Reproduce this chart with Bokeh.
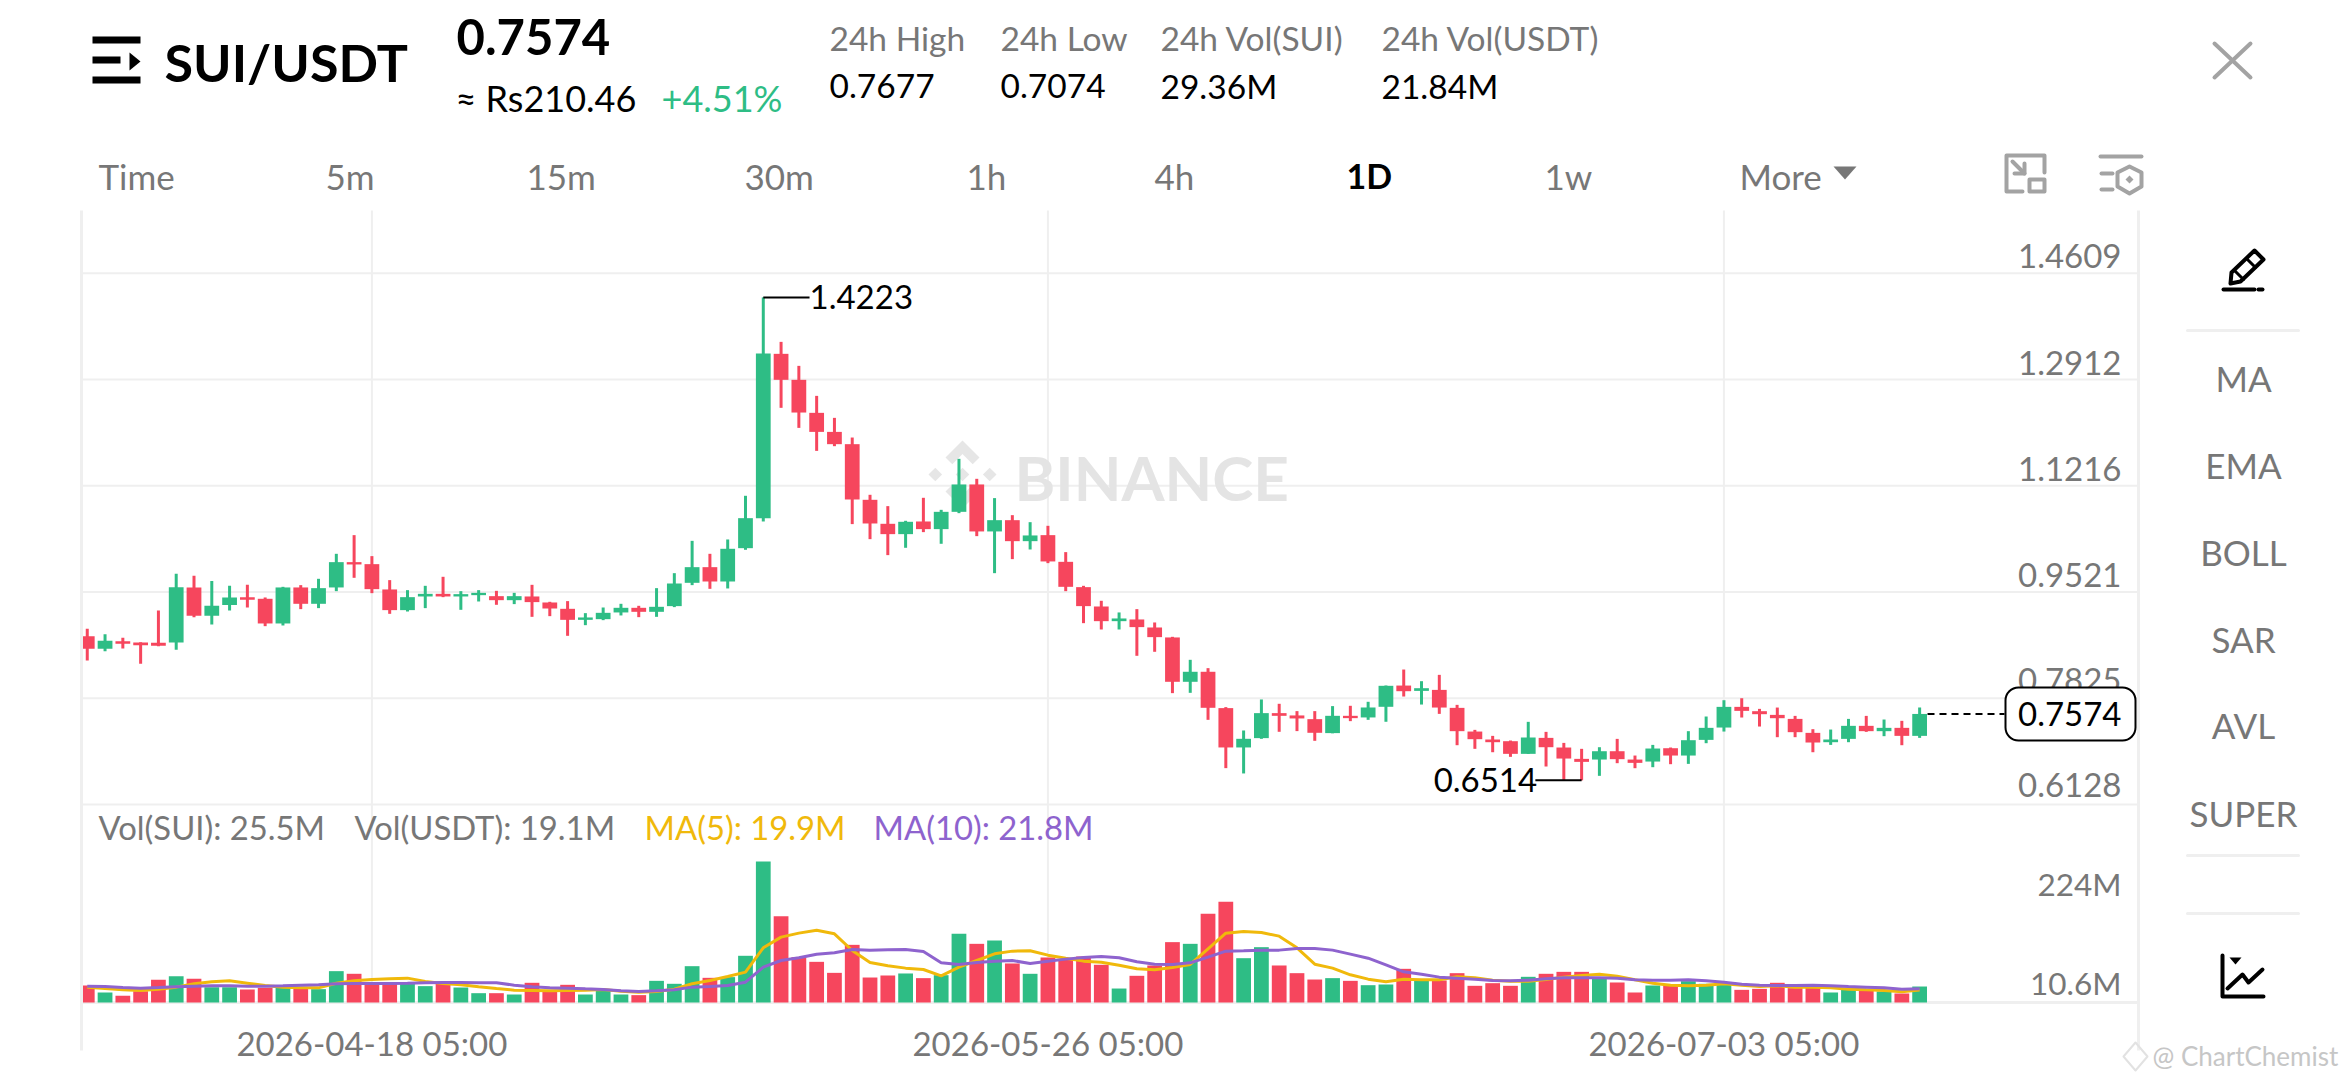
from bokeh.plotting import figure
from bokeh.embed import file_html
from bokeh.resources import INLINE
from bokeh.core.properties import value
from bokeh.models import (Range1d, FixedTicker, Label, BoxAnnotation)

opens = [.8816,.8614,.8736,.8715,.8709,.8715,.9593,.9140,.9311,.9438,.9412,.9018,.9593,.9332,.9593,.9997,.9965,.9561,.9231,.9449,
.9491,.9449,.9470,.9454,.9390,.9449,.9353,.9252,.9076,.9087,.9194,.9268,.9204,.9295,.9667,.9917,.9688,1.0220,1.0699,1.3322,
1.2907,1.2380,1.2076,1.1880,1.0992,1.0609,1.0444,1.0646,1.0524,1.0800,1.1237,1.0487,1.0667,1.0332,1.0428,1.0002,.9598,.9289,.9055,.9082,
.8954,.8795,.8087,.8247,.7667,.7039,.7188,.7587,.7550,.7491,.7268,.7544,.7518,.7688,.8027,.7942,.7958,.7671,.7293,.7166,
.7139,.6937,.7192,.7038,.6857,.6846,.6979,.6846,.6814,.7027,.6910,.7160,.7357,.7687,.7618,.7559,.7495,.7272,.7123,.7176,
.7384,.7299,.7352,.7224]
highs = [.8933,.8848,.8789,.8720,.9225,.9811,.9779,.9694,.9619,.9635,.9433,.9603,.9630,.9731,1.0130,1.0428,1.0093,.9710,.9550,.9619,
.9763,.9534,.9550,.9539,.9507,.9635,.9364,.9375,.9183,.9273,.9332,.9300,.9582,.9821,1.0337,1.0130,1.0359,1.1056,1.4223,1.3513,
1.3130,1.2651,1.2300,1.1986,1.1072,1.0891,1.0657,1.1024,1.0832,1.1646,1.1327,1.1019,1.0747,1.0635,1.0577,1.0157,.9619,.9380,.9194,.9247,
.9034,.8805,.8438,.8305,.7683,.7310,.7805,.7736,.7619,.7619,.7699,.7704,.7768,.8028,.8283,.8097,.8198,.7719,.7320,.7224,
.7150,.7448,.7288,.7112,.7017,.7043,.7176,.6910,.7080,.7038,.7299,.7533,.7793,.7825,.7655,.7676,.7543,.7331,.7325,.7495,
.7543,.7485,.7464,.7677]
lows = [.8427,.8576,.8619,.8374,.8656,.8598,.9119,.9002,.9225,.9273,.8975,.8986,.9247,.9263,.9534,.9747,.9502,.9172,.9209,.9263,
.9438,.9236,.9369,.9316,.9327,.9124,.9135,.8821,.8991,.9071,.9146,.9119,.9124,.9279,.9630,.9571,.9577,1.0194,1.0646,1.2460,
1.2140,1.1773,1.1848,1.0604,1.0364,1.0109,1.0226,1.0476,1.0290,1.0779,1.0412,.9821,1.0045,1.0199,.9981,.9534,.9023,.8922,.8922,.8502,
.8566,.7906,.7911,.7480,.6709,.6624,.7177,.7289,.7300,.7145,.7265,.7459,.7480,.7449,.7852,.7724,.7575,.7075,.7017,.6963,
.6889,.6937,.6735,.6522,.6514,.6586,.6788,.6708,.6724,.6772,.6777,.7107,.7293,.7517,.7373,.7203,.7203,.6963,.7080,.7123,
.7288,.7219,.7075,.7192]
closes = [.8614,.8741,.8693,.8672,.8661,.9598,.9140,.9300,.9433,.9396,.9018,.9593,.9332,.9582,.9997,.9960,.9566,.9231,.9438,.9491,
.9449,.9486,.9507,.9390,.9454,.9359,.9257,.9076,.9114,.9188,.9268,.9204,.9284,.9656,.9917,.9688,1.0210,1.0699,1.3327,1.2907,
1.2385,1.2076,1.1880,1.0997,1.0614,1.0444,1.0641,1.0524,1.0800,1.1237,1.0487,1.0667,1.0332,1.0423,1.0008,.9603,.9295,.9055,.9098,.8960,
.8800,.8087,.8247,.7672,.7039,.7177,.7587,.7544,.7502,.7273,.7544,.7507,.7677,.8023,.7937,.7985,.7676,.7299,.7171,.7123,
.6937,.7198,.7043,.6862,.6809,.6979,.6852,.6793,.7022,.6910,.7155,.7352,.7687,.7623,.7570,.7506,.7283,.7118,.7166,.7384,
.7299,.7352,.7224,.7574]
volumes = [27.0,15.9,10.6,18.0,36.0,41.8,37.6,24.4,24.4,20.7,23.3,24.4,23.3,21.2,49.8,45.6,29.7,29.7,29.7,26.0,
29.7,23.8,14.8,14.8,12.7,31.3,19.1,28.1,12.7,19.1,12.7,11.7,34.4,29.7,57.7,39.2,40.3,74.2,224.1,137.2,
72.0,64.6,47.1,91.6,39.7,42.9,46.1,38.7,43.4,109.1,93.2,98.5,62.0,45.6,71.5,67.8,73.1,59.9,22.2,42.4,
58.8,95.9,93.2,140.9,160.0,70.4,87.9,58.8,46.6,36.5,38.7,34.4,27.5,28.6,53.5,35.0,35.0,46.6,26.5,30.7,
26.5,40.8,45.6,48.7,48.7,40.3,31.8,15.9,27.0,27.0,33.9,29.7,28.6,20.1,21.7,31.3,22.8,24.4,15.9,21.7,
19.1,17.5,14.3,25.4]
ma5 = [24.4,22.2,20.1,19.1,21.2,24.4,29.7,32.8,34.4,30.7,27.0,24.4,23.3,23.3,30.7,34.4,36.5,37.6,38.7,33.4,
30.2,28.1,24.9,22.2,19.6,19.1,18.5,19.1,19.6,20.7,18.0,16.4,17.5,21.2,29.7,35.0,41.3,48.2,86.9,103.8,
110.2,114.9,109.1,82.6,63.6,58.3,54.6,52.4,42.4,56.1,66.7,77.3,81.6,82.1,75.2,70.4,65.7,64.1,59.3,53.5,
51.9,55.6,60.4,85.3,110.2,112.8,111.2,105.4,86.9,60.9,54.6,44.0,37.1,32.8,37.1,36.0,36.0,40.8,39.2,35.5,
33.9,33.9,36.5,40.3,42.9,45.0,41.8,36.0,30.7,27.5,26.5,27.5,29.7,27.5,25.4,26.5,24.4,24.4,23.3,21.2,
20.1,19.1,17.0,19.9]
ma10 = [26.0,25.4,23.8,22.8,23.8,24.9,26.0,26.5,26.5,26.0,26.0,26.5,27.5,28.1,29.7,30.2,30.2,30.2,30.7,31.3,
31.8,31.8,31.3,31.3,27.5,24.9,23.3,22.8,21.7,20.7,18.5,17.5,18.5,20.1,24.4,25.4,27.0,32.3,56.1,66.7,
71.0,76.8,78.9,84.2,83.2,83.7,84.2,81.0,63.0,60.4,63.6,65.7,66.7,62.0,65.7,68.9,71.5,73.1,71.0,64.6,
60.9,60.4,63.0,72.0,81.6,82.1,83.2,83.2,85.8,85.8,83.2,76.8,70.4,59.9,48.7,45.0,40.3,38.7,37.1,35.0,
34.4,35.5,37.6,39.2,39.2,39.2,38.7,36.0,35.5,35.5,36.0,34.4,32.3,29.1,27.5,27.0,27.0,27.5,26.5,25.4,
24.4,23.3,21.2,21.8]
price_ticks = [1.4609,1.2912,1.1216,.9521,.7825,.6128]
price_labels = ["1.4609","1.2912","1.1216","0.9521","0.7825","0.6128"]
vol_ticks = [224,10.6]
vol_labels = ["224M","10.6M"]
date_ticks = [16,54,92]
date_labels = ["2026-04-18 05:00","2026-05-26 05:00","2026-07-03 05:00"]
intervals = ["Time","5m","15m","30m","1h","4h","1D","1w","More"]
indicators = ["MA","EMA","BOLL","SAR","AVL","SUPER"]
last_price, high_mark, low_mark = .7574, 1.4223, .6514

GREEN, RED, GRID, GRAY = "#2EBD85", "#F6465D", "#EFEFEF", "#777777"
FONT = "Lato"
# image pixel -> data helpers for page furniture placed around the chart
def fx(px): return (px - 86.76) / 17.79
def fy(py): return 1.4609 - (py - 272.7) / 626.5
VPX = 224 / 141.0
W, H = 2340, 1080
idx = list(range(len(opens)))
colors = [GREEN if c >= o else RED for o, c in zip(opens, closes)]

p = figure(width=W, height=H, output_backend="svg", toolbar_location=None,
           x_range=Range1d(fx(0), fx(W)), y_range=Range1d(fy(H), fy(0)),
           min_border=0, min_border_left=0, min_border_right=0, min_border_top=0, min_border_bottom=0)
p.extra_y_ranges = {"vol": Range1d(-(H-1002)*VPX, 1002*VPX)}
p.outline_line_color = None
p.background_fill_color = "white"
p.yaxis.visible = False
p.xgrid.visible = False
p.ygrid.visible = False

base = fy(1002)
ax = p.xaxis[0]
ax.ticker = FixedTicker(ticks=date_ticks)
ax.major_label_overrides = dict(zip(date_ticks, date_labels))
ax.fixed_location = base
ax.axis_line_color = None
ax.major_tick_line_color = None
ax.minor_tick_line_color = None
ax.major_label_text_font = FONT
ax.major_label_text_font_size = "33px"
ax.major_label_text_color = GRAY
ax.major_label_standoff = 14

def txt(t, x, y, size=33, color=GRAY, align="left", style="normal"):
    p.text(x=[fx(x)], y=[fy(y)], text=[t], text_font=value(FONT), text_font_size=f"{size}px", text_color=color,
           text_align=align, text_baseline="middle", text_font_style=style)
def poly(pts, fill=None, line="black", w=4):
    p.patch(x=[fx(a) for a, b in pts], y=[fy(b) for a, b in pts], fill_color=fill or "white",
            fill_alpha=1 if fill else 0, line_color=line or "white", line_alpha=1 if line else 0, line_width=w,
            line_join="round")
def path(pts, line="black", w=4):
    p.line(x=[fx(a) for a, b in pts], y=[fy(b) for a, b in pts], line_color=line, line_width=w,
           line_cap="round", line_join="round")

# grid rules
p.segment(x0=[fx(81)]*6, x1=[fx(2138)]*6, y0=price_ticks, y1=price_ticks, line_color=GRID, line_width=2)
p.segment(x0=date_ticks, x1=date_ticks, y0=[base]*3, y1=[fy(210)]*3, line_color=GRID, line_width=2)
p.segment(x0=[fx(81)], x1=[fx(2138)], y0=[base], y1=[base], line_color=GRID, line_width=3)

# watermark
cx, cy, s = 962, 474, 34
wm = [[(0,-1),(.5,-.5),(.3,-.3),(0,-.6),(-.3,-.3),(-.5,-.5)],
      [(0,1),(.5,.5),(.3,.3),(0,.6),(-.3,.3),(-.5,.5)],
      [(0,-.2),(.2,0),(0,.2),(-.2,0)],
      [(.8,-.2),(1,0),(.8,.2),(.6,0)],
      [(-.8,-.2),(-.6,0),(-.8,.2),(-1,0)]]
p.patches(xs=[[fx(cx+a*s) for a, b in q] for q in wm], ys=[[fy(cy+b*s) for a, b in q] for q in wm],
          fill_color="#E6E6E6", line_color=None)
txt("BINANCE", 1014, 476, 62, "#E4E4E4", style="bold")

# candles
p.segment(x0=idx, x1=idx, y0=lows, y1=highs, line_color=colors, line_width=3)
p.vbar(x=idx, width=.83, top=[max(o, c) for o, c in zip(opens, closes)],
       bottom=[min(o, c) for o, c in zip(opens, closes)], fill_color=colors, line_color=None)

# volume
p.vbar(x=idx, width=.83, top=volumes, bottom=0, fill_color=colors, line_color=None, y_range_name="vol")
p.line(idx, ma5, line_color="#F0B90B", line_width=3, y_range_name="vol")
p.line(idx, ma10, line_color="#8E63CE", line_width=3, y_range_name="vol")

# left mask and frame sides
p.quad(left=[fx(0)], right=[fx(81)], bottom=[fy(H)], top=[fy(0)], fill_color="white", line_color=None)
p.segment(x0=[fx(81), fx(2138)], x1=[fx(81), fx(2138)], y0=[fy(210)]*2, y1=[fy(1050)]*2, line_color=GRID, line_width=3)

# axis value labels
p.text(x=[fx(2121)]*6, y=price_ticks, text=price_labels, text_font=value(FONT), text_font_size="33px",
       text_color=GRAY, text_align="right", text_baseline="middle", y_offset=[-17,-17,-17,-17,-18,-20])
p.text(x=[fx(2121)]*2, y=vol_ticks, text=vol_labels, text_font=value(FONT), text_font_size="31.5px",
       text_color=GRAY, text_align="right", text_baseline="middle", y_offset=[22,-13], y_range_name="vol")

# high / low marks
hi = highs.index(high_mark); lo = lows.index(low_mark)
p.segment(x0=[hi, lo-2.6], x1=[hi+2.6, lo], y0=[high_mark, low_mark], y1=[high_mark, low_mark], line_color="black", line_width=2)
p.text(x=[hi+2.6], y=[high_mark], text=["1.4223"], text_font=value(FONT), text_font_size="33px", text_color="black",
       text_align="left", text_baseline="middle")
p.text(x=[lo-2.5], y=[low_mark], text=["0.6514"], text_font=value(FONT), text_font_size="33px", text_color="black",
       text_align="right", text_baseline="middle")

# last price
p.segment(x0=[fx(1927)], x1=[fx(2004)], y0=[last_price], y1=[last_price], line_color="black", line_width=2, line_dash="7 5")
p.add_layout(BoxAnnotation(left=fx(2005), right=fx(2135), top=fy(687), bottom=fy(740), border_radius=13,
                           fill_color="white", fill_alpha=1, line_color="black", line_width=2, line_alpha=1))
p.add_layout(Label(x=fx(2121), y=fy(713), text="0.7574", text_font=FONT, text_font_size="33px", text_color="black",
                   text_align="right", text_baseline="middle"))

# header
for pts in ([(92,36),(140,36),(140,43),(92,43)], [(92,56),(120,56),(120,63),(92,63)],
            [(92,76),(140,76),(140,83),(92,83)], [(129,52),(140,61),(129,70)]):
    poly(pts, "black", None, 0)
txt("SUI/USDT", 164, 61, 52, "black", style="bold")
txt("0.7574", 456, 36, 49, "black", style="bold")
txt("≈ Rs210.46", 455, 97, 36, "black")
txt("+4.51%", 661, 97, 36, GREEN)
for t, x in zip(["24h High","24h Low","24h Vol(SUI)","24h Vol(USDT)"], [829,1000,1160,1381]):
    txt(t, x, 37, 33.5)
for t, x in zip(["0.7677","0.7074","29.36M","21.84M"], [829,1000,1160,1381]):
    txt(t, x, 85, 33.5, "black")
for t, x in zip(intervals, [98,325,526,744,966,1154,1346,1544,1739]):
    if t == "1D":
        txt(t, x, 175, 34, "black", style="bold")
    else:
        txt(t, x, 175, 35)
poly([(1833,166),(1856,166),(1844.5,179)], GRAY, None, 0)

# header icons
IC = "#A3A3A3"
path([(2214,43),(2250,77)], IC); path([(2250,43),(2214,77)], IC)
path([(2044,172),(2044,155),(2006,155),(2006,191),(2022,191)], IC)
poly([(2029,179),(2044,179),(2044,191),(2029,191)], None, IC, 4)
path([(2012,161),(2024,173)], IC); path([(2014,173),(2024,173),(2024,163)], IC)
path([(2100,156),(2141,156)], IC); path([(2101,173),(2112,173)], IC); path([(2101,189),(2112,189)], IC)
poly([(2129,166),(2141,172),(2141,186),(2129,193),(2117,186),(2117,172)], None, IC, 4)
poly([(2129,175),(2133,179),(2129,183),(2125,179)], IC, None, 0)

# side panel
poly([(2231,272),(2254,250),(2263,259),(2240,281),(2230,283)], None, "black", 4)
path([(2246,258),(2255,267)], "black", 3); path([(2234,270),(2243,279)], "black", 3)
path([(2223,289),(2254,289)], "black", 4); path([(2258,289),(2262,289)], "black", 4)
for y in [330, 855, 913]:
    path([(2187,y),(2298,y)], GRID, 3)
for t, y in zip(indicators, [377,464,551,638,724,812]):
    txt(t, 2243, y, 35, GRAY, "center")
path([(2222,955),(2222,996),(2263,996)], "black", 4)
poly([(2229,957),(2241,957),(2235,964)], "black", None, 0)
path([(2227,988),(2242,974),(2248,982),(2262,969)], "black", 4)

# legend row
txt("Vol(SUI): 25.5M", 98, 827, 32.8)
txt("Vol(USDT): 19.1M", 354, 827, 32.8)
txt("MA(5): 19.9M", 644, 827, 32.8, "#F0B90B")
txt("MA(10): 21.8M", 873, 827, 32.8, "#8E63CE")

# corner credit
poly([(2135,1042),(2147,1056),(2135,1070),(2123,1056)], None, "#E2E2E2", 2)
txt("@ ChartChemist", 2152, 1055, 26, "#C6C6C6")

open("out.html", "w").write(file_html(p, INLINE))
